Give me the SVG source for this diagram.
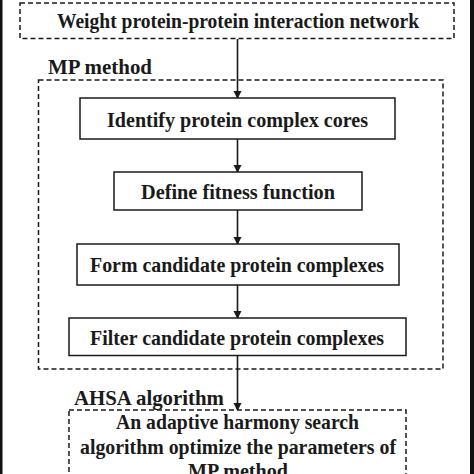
<svg xmlns="http://www.w3.org/2000/svg" width="474" height="474" viewBox="0 0 474 474">
<style>
  .t{font-family:"Liberation Serif","Times New Roman",serif;font-weight:bold;font-size:22px;fill:#1a1a1a;text-anchor:middle}
  .lbl{font-family:"Liberation Serif","Times New Roman",serif;font-weight:bold;font-size:22px;fill:#1a1a1a}
  .dash{fill:none;stroke:#1a1a1a;stroke-width:1.5;stroke-dasharray:5 3}
  .box{fill:#fff;stroke:#1a1a1a;stroke-width:1.5}
  .edge{stroke:#1a1a1a;stroke-width:1.6;fill:none;marker-end:url(#arr)}
</style>
<defs>
  <marker id="arr" markerWidth="8" markerHeight="10" refX="7" refY="4" orient="auto" markerUnits="userSpaceOnUse" viewBox="0 0 8 8">
    <path d="M0,0 L8,4 L0,8 Z" fill="#1a1a1a"/>
  </marker>
</defs>
<rect width="474" height="474" fill="#fff"/>
<rect x="0" y="0" width="2.5" height="474" fill="#111"/>
<rect x="470" y="0" width="4" height="474" fill="#111"/>

<g id="mp-container">
  <rect class="dash" x="38.5" y="80" width="404.5" height="289"/>
  <text class="lbl" x="48" y="74" textLength="104" lengthAdjust="spacingAndGlyphs">MP method</text>
</g>

<g id="connectors">
  <line class="edge" x1="237.5" y1="39" x2="237.5" y2="98"/>
  <line class="edge" x1="237.5" y1="139" x2="237.5" y2="172"/>
  <line class="edge" x1="237.5" y1="210" x2="237.5" y2="244"/>
  <line class="edge" x1="237.5" y1="285" x2="237.5" y2="318"/>
  <line class="edge" x1="237.5" y1="355.5" x2="237.5" y2="410"/>
</g>

<g id="weight-ppi">
  <rect class="dash" x="20" y="3" width="434" height="35.5"/>
  <text class="t" x="238" y="28" textLength="362" lengthAdjust="spacingAndGlyphs">Weight protein-protein interaction network</text>
</g>

<g id="identify">
  <rect class="box" x="80" y="98" width="315" height="41"/>
  <text class="t" x="237.5" y="127.3" textLength="261" lengthAdjust="spacingAndGlyphs">Identify protein complex cores</text>
</g>

<g id="define">
  <rect class="box" x="114" y="172" width="248" height="38"/>
  <text class="t" x="238" y="199.3" textLength="194" lengthAdjust="spacingAndGlyphs">Define fitness function</text>
</g>

<g id="form">
  <rect class="box" x="77" y="244" width="322" height="41"/>
  <text class="t" x="237" y="271.7" textLength="294" lengthAdjust="spacingAndGlyphs">Form candidate protein complexes</text>
</g>

<g id="filter">
  <rect class="box" x="69" y="318" width="337" height="37.5"/>
  <text class="t" x="237" y="344.7" textLength="294" lengthAdjust="spacingAndGlyphs">Filter candidate protein complexes</text>
</g>

<g id="ahsa">
  <text class="lbl" x="74" y="404.7" textLength="150" lengthAdjust="spacingAndGlyphs">AHSA algorithm</text>
  <rect class="dash" x="69" y="410" width="337" height="90"/>
  <text class="t" x="237.5" y="429" textLength="243" lengthAdjust="spacingAndGlyphs">An adaptive harmony search</text>
  <text class="t" x="238" y="453.5" textLength="316" lengthAdjust="spacingAndGlyphs">algorithm optimize the parameters of</text>
  <text class="t" x="238" y="478" textLength="100" lengthAdjust="spacingAndGlyphs">MP method</text>
</g>
</svg>
